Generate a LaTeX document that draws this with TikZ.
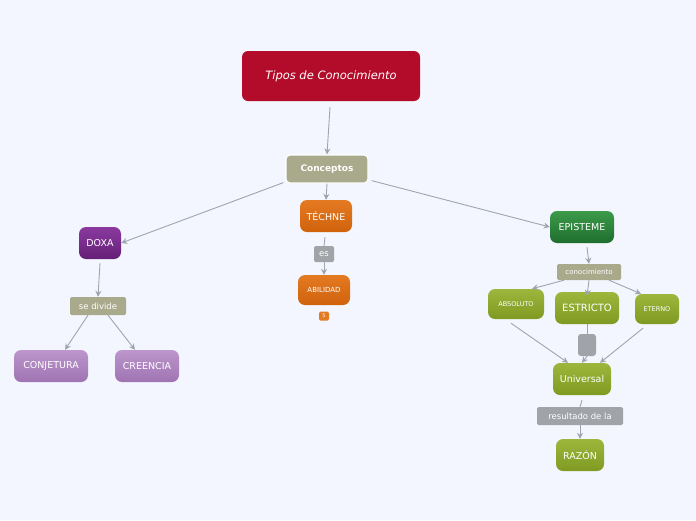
\documentclass[tikz,border=0pt]{standalone}
\usepackage{fontspec}
\setmainfont{DejaVu Sans}
\usetikzlibrary{arrows.meta}
\definecolor{bg}{HTML}{F3F6FE}
\definecolor{crim}{HTML}{B30C2A}
\definecolor{olive}{HTML}{A9A98C}
\definecolor{gr}{HTML}{A0A4A8}
\definecolor{ora}{HTML}{E47A22}
\definecolor{orad}{HTML}{D0620C}
\definecolor{pur}{HTML}{8A3A9E}
\definecolor{purd}{HTML}{651F78}
\definecolor{lpur}{HTML}{BC96CC}
\definecolor{lpurd}{HTML}{9F74B2}
\definecolor{grn}{HTML}{3C9A4A}
\definecolor{grnd}{HTML}{1F6E2E}
\definecolor{lg}{HTML}{9DB63C}
\definecolor{lgd}{HTML}{7F9A22}
\definecolor{ln}{HTML}{A0A4AE}
\tikzset{
 base/.style={inner sep=0pt, text=white, align=center},
 cyl/.style n args={4}{base, minimum width=#1, minimum height=#2, rounded corners=7pt, top color=#3, bottom color=#4, font=\fontsize{9.5}{11}\selectfont},
 lab/.style n args={3}{base, minimum width=#1, minimum height=#2, fill=#3, rounded corners=1.5pt, font=\fontsize{8.5}{10}\selectfont},
 con/.style={draw=ln, line width=0.9pt, -{Stealth[length=6pt,width=6pt]}},
 lin/.style={draw=ln, line width=0.9pt},
}
\begin{document}
\begin{tikzpicture}[x=1pt,y=-1pt]
\fill[bg] (0,0) rectangle (696,520);
\useasboundingbox (0,0) rectangle (696,520);
\node[base, minimum width=178, minimum height=50, fill=crim, rounded corners=6pt, font=\itshape\fontsize{11.5}{13}\selectfont] (t) at (331,76) {Tipos de Conocimiento};
\node[base, minimum width=82, minimum height=28, fill=olive, draw=white, line width=1.2pt, rounded corners=4pt, font=\bfseries\fontsize{9}{11}\selectfont] (c) at (327,169) {Conceptos};
\node[cyl={52}{32}{ora}{orad}] (te) at (326,216) {TÉCHNE};
\node[lab={20}{16}{gr}] (es) at (324,254) {es};
\node[cyl={52}{30}{ora}{orad}, font=\fontsize{7}{8}\selectfont] (ab) at (324,290) {ABILIDAD};
\node[lab={10}{9}{ora}, font=\fontsize{5}{6}\selectfont] (b5) at (324,316) {5};
\node[cyl={42}{32}{pur}{purd}] (dx) at (100,243) {DOXA};
\node[lab={56}{18}{olive}] (sd) at (98,306) {se divide};
\node[cyl={74}{32}{lpur}{lpurd}] (cj) at (51,366) {CONJETURA};
\node[cyl={64}{32}{lpur}{lpurd}] (cr) at (147,366) {CREENCIA};
\node[cyl={64}{32}{grn}{grnd}] (ep) at (582,227) {EPISTEME};
\node[lab={64}{16}{olive}, font=\fontsize{7}{8}\selectfont] (co) at (589,272) {conocimiento};
\node[cyl={56}{30}{lg}{lgd}, font=\fontsize{6.5}{7}\selectfont] (as) at (516,304) {ABSOLUTO};
\node[cyl={64}{32}{lg}{lgd}, font=\fontsize{10}{11}\selectfont] (et) at (587,308) {ESTRICTO};
\node[cyl={44}{30}{lg}{lgd}, font=\fontsize{6.5}{7}\selectfont] (en) at (657,309) {ETERNO};
\node[lab={18}{22}{gr}, rounded corners=3pt] (gb) at (587,345) {};
\node[cyl={58}{32}{lg}{lgd}] (un) at (582,379) {Universal};
\node[lab={86}{18}{gr}] (rl) at (580,416) {resultado de la};
\node[cyl={48}{32}{lg}{lgd}] (rz) at (580,455) {RAZÓN};
\draw[con] (t.south) ++(-1,6) -- (c.north);
\draw[con] (c.south) -- (te.north);
\draw[lin] (te.south) ++(-1,5) -- (es.north);
\draw[con] (es.south) -- (ab.north);
\draw[con] (c.south west) ++(-2,-1) -- (dx.east);
\draw[con] (c.south east) ++(3,-3) -- (ep.west);
\draw[con] (dx.south) ++(0,4) -- (sd.north);
\draw[con] (sd.south) ++(-10,0) -- ([xshift=14pt]cj.north);
\draw[con] (sd.south) ++(10,0) -- ([xshift=-12pt]cr.north);
\draw[con] (ep.south) ++(5,4) -- (co.north);
\draw[con] (co.south) ++(-25,0) -- ([xshift=16pt]as.north);
\draw[con] (co.south) -- ([yshift=-4pt]et.north);
\draw[con] (co.south) ++(20,0) -- ([xshift=-16pt]en.north);
\draw[lin] (et.south) -- (gb.north);
\draw[con] (gb.south) -- (un.north);
\draw[con] (as.south) ++(-5,4) -- ([xshift=-14pt]un.north);
\draw[con] (en.south) ++(-14,4) -- ([xshift=18pt]un.north);
\draw[lin] (un.south) ++(0,5) -- (rl.north);
\draw[con] (rl.south) -- (rz.north);
\end{tikzpicture}
\end{document}
